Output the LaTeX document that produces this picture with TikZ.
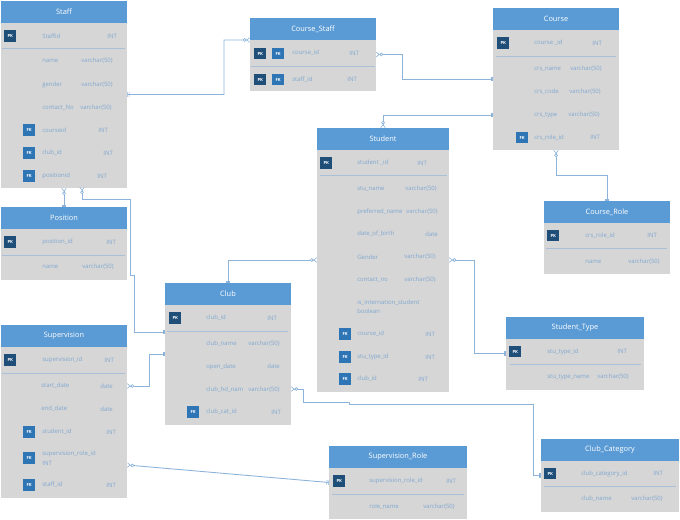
\documentclass[tikz,border=0pt]{standalone}
\usepackage{fontspec}
\setmainfont{Open Sans}
\usetikzlibrary{positioning}
\usetikzlibrary{arrows.meta}
\definecolor{headerColor}{HTML}{5B9BD5}
\definecolor{bodyColor}{HTML}{D6D6D6}
\definecolor{primaryColor}{HTML}{1F4E79}
\definecolor{foreignColor}{HTML}{2E75B6}
\definecolor{fieldColor}{HTML}{7FA7D0}
\definecolor{dividerColor}{HTML}{A9C0D8}
\definecolor{linkColor}{HTML}{8DB3DA}
\tikzstyle{entitySheet} = [x = .02cm, y = -.02cm]
\tikzstyle{entityBody} = [fill=bodyColor, anchor=north west, inner sep=0, outer sep=0]
\tikzstyle{entityHead} = [fill=headerColor, text=white, anchor=north west, inner sep=0, outer sep=0, font=\fontsize{4.2}{5}\selectfont]
\tikzstyle{fieldText} = [text=fieldColor, anchor=west, inner sep=0, font=\fontsize{3.4}{4}\selectfont]
\tikzstyle{keyIcon} = [text=white, anchor=west, inner sep=0, minimum size=.235cm, font=\fontsize{2.4}{3}\selectfont\bfseries]
\tikzstyle{dividerLine} = [color=dividerColor, line width=.35pt]
\tikzset{
  manyEnd/.tip={Circle[open,fill=white,length=2pt,width=2pt,line width=.35pt]Straight Barb[reversed,length=1.6pt,width=2.6pt,line width=.35pt]},
  oneEnd/.tip={Bar[width=2.6pt,sep=.7pt,line width=.35pt]Bar[width=2.6pt,line width=.35pt]}
}
\tikzstyle{linkLine} = [color=linkColor, line width=.5pt, {manyEnd[]}-{oneEnd[]}]
\newcounter{itemNo}
\newcommand{\entityTable}[6]{\node [entityBody, minimum width=#4*.02cm, minimum height=#5*.02cm] (#1) at (#2,#3) {};
  \node [entityHead, minimum width=#4*.02cm, minimum height=.44cm] (#1Head) at (#2,#3) {#6};}
\newcommand{\fieldRow}[5]{\stepcounter{itemNo}
  \node [fieldText] (name\theitemNo) at (#1,#3) {#4};
  \node [fieldText] (type\theitemNo) at (#2,#3) {#5};}
\newcommand{\pkIcon}[2]{\stepcounter{itemNo}\node [keyIcon, fill=primaryColor] (pk\theitemNo) at (#1,#2) {PK};}
\newcommand{\fkIcon}[2]{\stepcounter{itemNo}\node [keyIcon, fill=foreignColor] (fk\theitemNo) at (#1,#2) {FK};}
\newcommand{\dividerAt}[3]{\draw [dividerLine] (#1,#3) -- (#2,#3);}
\begin{document}
\begin{tikzpicture}[entitySheet]
  \useasboundingbox (0,0) rectangle (680,520);

  \entityTable{staff}{1}{1}{126}{187}{Staff}
  \pkIcon{4}{36}
  \fieldRow{42}{107}{36}{Staffid}{INT}
  \dividerAt{2}{125}{48.5}
  \fieldRow{42}{81}{61}{name}{varchar(50)}
  \fieldRow{42}{81}{85}{gender}{varchar(50)}
  \fieldRow{42}{80}{107.5}{contact\_No}{varchar(50)}
  \fkIcon{23}{130}
  \fieldRow{42}{98}{130}{courseid}{INT}
  \fkIcon{23}{153}
  \fieldRow{42}{103}{153}{club\_id}{INT}
  \fkIcon{23}{176}
  \fieldRow{42}{97}{176}{positionid}{INT}

  \entityTable{position}{1}{207}{126}{73}{Position}
  \pkIcon{4}{242}
  \fieldRow{42}{106}{242}{position\_id}{INT}
  \dividerAt{2}{125}{255}
  \fieldRow{42}{82}{267}{name}{varchar(50)}

  \entityTable{courseStaff}{250}{18}{126}{73}{Course\_Staff}
  \pkIcon{254}{53.5}
  \fkIcon{272}{53.5}
  \fieldRow{292}{349}{53}{course\_id}{INT}
  \dividerAt{251}{375}{66}
  \pkIcon{254}{79.5}
  \fkIcon{272}{79.5}
  \fieldRow{292}{347}{79.5}{staff\_id}{INT}

  \entityTable{course}{493}{8}{126}{142}{Course}
  \pkIcon{497}{43}
  \fieldRow{534}{592}{43}{course \_id}{INT}
  \dividerAt{496}{616}{56.5}
  \fieldRow{534}{570}{69}{crs\_name}{varchar(50)}
  \fieldRow{534}{569}{92}{crs\_code}{varchar(50)}
  \fieldRow{534}{568}{115}{crs\_type}{varchar(50)}
  \fkIcon{516}{137.5}
  \fieldRow{534}{590}{137.5}{crs\_role\_id}{INT}

  \entityTable{student}{317}{128}{132}{264}{Student}
  \pkIcon{320}{163}
  \fieldRow{357}{417}{163}{student \_id}{INT}
  \dividerAt{320}{447}{175}
  \fieldRow{357}{405}{188.5}{stu\_name}{varchar(50)}
  \fieldRow{357}{406}{211.5}{preferred\_name}{varchar(50)}
  \fieldRow{357}{425}{234}{date\_of\_birth}{date}
  \fieldRow{357}{404}{257}{Gender}{varchar(50)}
  \fieldRow{357}{404}{279.5}{contact\_no}{varchar(50)}
  \node [fieldText] (internationalName) at (357,303) {is\_internation\_student};
  \node [fieldText] (internationalType) at (357,311) {boolean};
  \fkIcon{339}{334}
  \fieldRow{357}{425}{334}{course\_id}{INT}
  \fkIcon{339}{357}
  \fieldRow{357}{425}{357}{stu\_type\_id}{INT}
  \fkIcon{339}{379}
  \fieldRow{357}{418}{379}{club\_id}{INT}

  \entityTable{courseRole}{544}{201}{126}{73}{Course\_Role}
  \pkIcon{547}{235.5}
  \fieldRow{585}{647}{235.5}{crs\_role\_id}{INT}
  \dividerAt{546}{667}{248.5}
  \fieldRow{585}{628}{262}{name}{varchar(50)}

  \entityTable{club}{165}{283}{126}{142}{Club}
  \pkIcon{169}{318}
  \fieldRow{206}{267}{318}{club\_id}{INT}
  \dividerAt{167}{288}{331}
  \fieldRow{206}{248}{344}{club\_name}{varchar(50)}
  \fieldRow{206}{267}{366.5}{open\_date}{date}
  \fieldRow{206}{248}{389.5}{club\_hd\_nam}{varchar(50)}
  \fkIcon{187}{412}
  \fieldRow{206}{271}{412}{club\_cat\_id}{INT}

  \entityTable{supervision}{1}{325}{126}{173}{Supervision}
  \pkIcon{4}{360}
  \fieldRow{42}{104}{360}{supervision\_id}{INT}
  \dividerAt{2}{125}{373}
  \fieldRow{41}{100}{386}{start\_date}{date}
  \fieldRow{41}{100}{409}{end\_date}{date}
  \fkIcon{23}{432}
  \fieldRow{42}{106}{432}{student\_id}{INT}
  \fkIcon{23}{458}
  \node [fieldText] (supRoleName) at (42,454) {supervision\_role\_id};
  \node [fieldText] (supRoleType) at (42,463) {INT};
  \fkIcon{23}{485}
  \fieldRow{42}{106}{485}{staff\_id}{INT}

  \entityTable{studentType}{506}{317}{138}{73}{Student\_Type}
  \pkIcon{509}{351.5}
  \fieldRow{547}{617}{351.5}{stu\_type\_id}{INT}
  \dividerAt{510}{641}{364}
  \fieldRow{547}{597}{377}{stu\_type\_name}{varchar(50)}

  \entityTable{supervisionRole}{329}{446}{138}{73}{Supervision\_Role}
  \pkIcon{333}{481}
  \fieldRow{369}{446}{481}{supervision\_role\_id}{INT}
  \dividerAt{332}{464}{494}
  \fieldRow{369}{423}{507}{role\_name}{varchar(50)}

  \entityTable{clubCategory}{541}{439}{138}{73}{Club\_Category}
  \pkIcon{544}{473.5}
  \fieldRow{581}{653}{473.5}{club\_category\_id}{INT}
  \dividerAt{544}{676}{486}
  \fieldRow{581}{631}{499}{club\_name}{varchar(50)}

  % loose ends on table sides
  \coordinate (staffFoot) at (82,187);
  \coordinate (clubSide) at (165,332);
  \coordinate (courseSide) at (493,115);
  \coordinate (clubEast) at (291,389);
  \coordinate (supervisionStart) at (127,386);
  \coordinate (supervisionRoleStart) at (127,465);

  \draw [linkLine] (staff.south) -- (position.north);
  \draw [linkLine] (staffFoot) -- ++(0,12) -- ++(48,0) -- ++(0,76) -- ++(4,0) -- ++(0,57) -- (clubSide);
  \draw [linkLine] (courseStaffHead.south west) -- ++(-26,0) -- ++(0,54.5) -- (staff.east);
  \draw [linkLine] (courseStaff.east) -- ++(26,0) |- (course.west);
  \draw [linkLine] (student.north) -- ++(0,-13) -- (courseSide);
  \draw [linkLine] (course.south) -- ++(0,25) -| (courseRole.north);
  \draw [linkLine] (student.west) -| (club.north);
  \draw [linkLine] (student.east) -- ++(25,0) |- (studentType.west);
  \draw [linkLine] (supervisionStart) -- ++(22,0) |- (club.west);
  \draw [linkLine] (clubEast) -- ++(12,0) -- ++(0,13) -- ++(46,0) -- ++(0,2) -- ++(184,0) |- (clubCategory.west);
  \draw [linkLine] (supervisionRoleStart) -- (supervisionRole.west);
\end{tikzpicture}
\end{document}
